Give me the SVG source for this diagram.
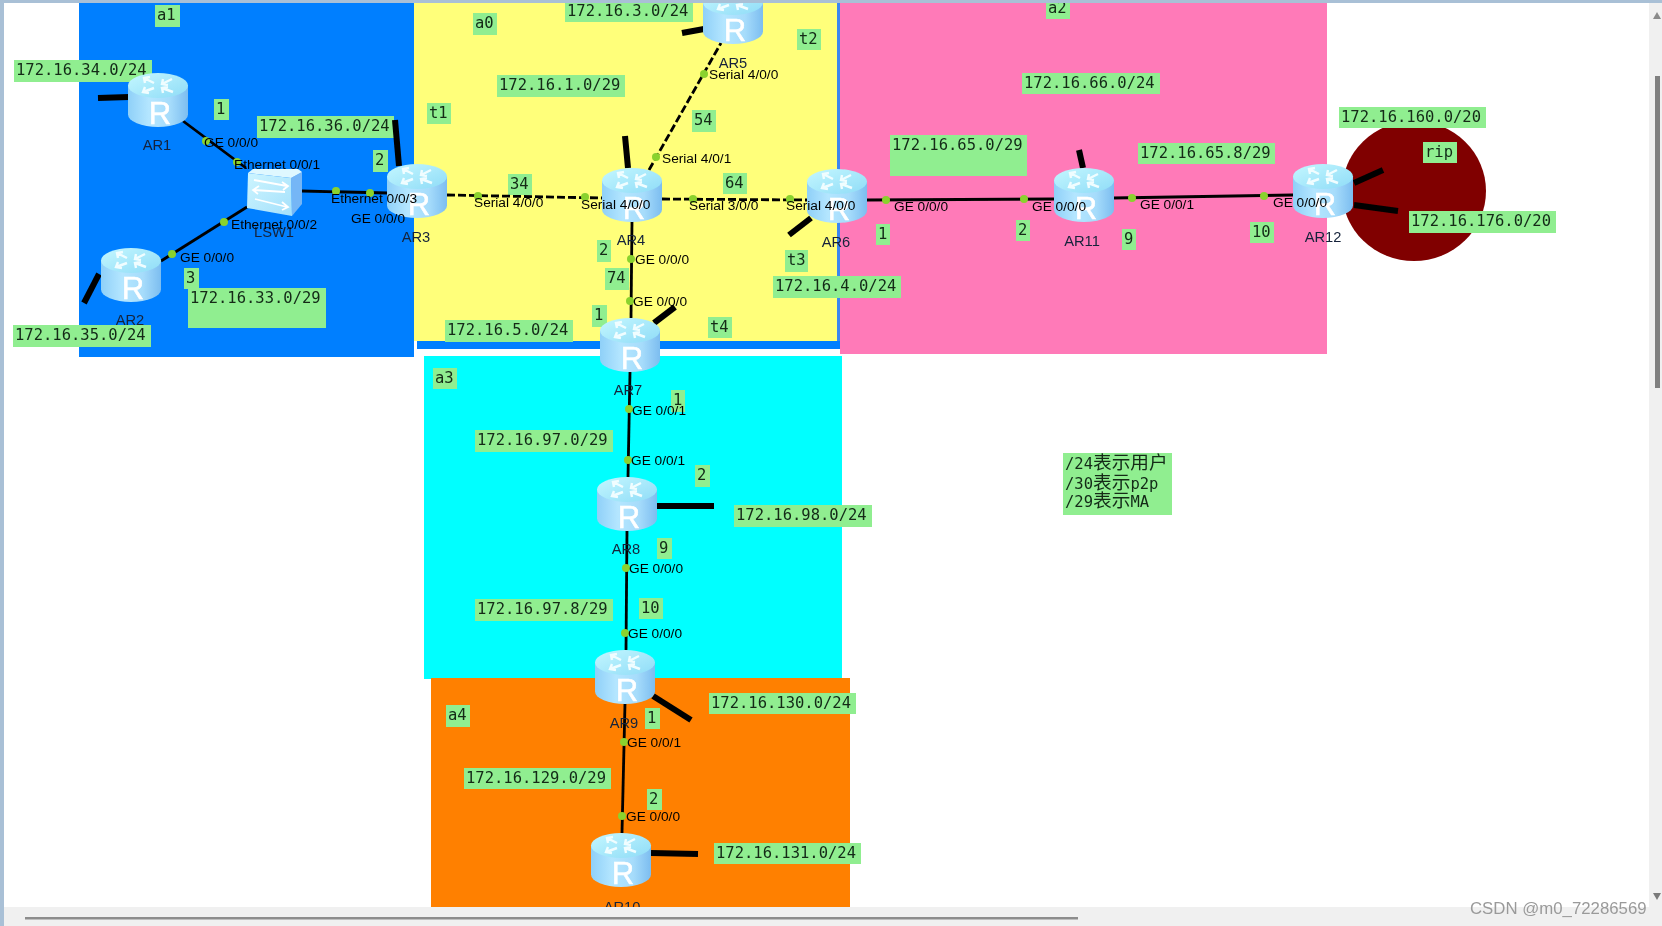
<svg xmlns="http://www.w3.org/2000/svg" width="1662" height="926" viewBox="0 0 1662 926">
<style>
.l{fill:#90ee90}
.t{font:15.5px "DejaVu Sans Mono","Liberation Mono",monospace;fill:#122a18;transform:translate(-1px,1px)}
.c{font-family:"Noto Sans CJK SC",sans-serif;font-size:18.7px}
.n{font:14.7px "Liberation Sans",Arial,sans-serif;fill:#14233a;text-anchor:middle}
.i{font:13.7px "Liberation Sans",Arial,sans-serif;fill:#000}
.k{stroke:#000;stroke-width:2.800;fill:none}
.d{stroke-dasharray:8 3}
.s{stroke:#000;stroke-width:6;fill:none}
.p{fill:#8ad22e}
</style>
<defs>
<filter id="soft" x="0" y="0" width="100%" height="100%"><feGaussianBlur stdDeviation=".4"/></filter>
<linearGradient id="body" x1="0" x2="1" y1="0" y2="0"><stop offset="0" stop-color="#8fd0f8"/><stop offset=".35" stop-color="#b4e6ff"/><stop offset=".7" stop-color="#a6dcfb"/><stop offset="1" stop-color="#7cbdf0"/></linearGradient>
<linearGradient id="top" x1="0" x2="1" y1="0" y2="1"><stop offset="0" stop-color="#c4f7ff"/><stop offset="1" stop-color="#8fdcf7"/></linearGradient>
<linearGradient id="sw" x1="0" x2="1" y1="0" y2="1"><stop offset="0" stop-color="#cdf5ff"/><stop offset="1" stop-color="#a4e0fb"/></linearGradient>
<g id="router">
<path d="M-30-14.500V14.500A30 12.500 0 0 0 30 14.500V-14.500Z" fill="url(#body)"/>
<ellipse cx="0" cy="-14.500" rx="30" ry="12.500" fill="url(#top)"/>
<path d="M-4-17L-14-22M-8-23L-14-22L-13-17M14-21L4-16M10-15L4-16L5-21M-4-12L-15-8M-9-7L-15-8L-13-13M15-8L4-12M5-7L4-12L10-13" stroke="#f0fdff" stroke-width="2.400" fill="none"/>
<text x="2" y="24" font-family="'Liberation Sans',Arial,sans-serif" font-size="31" fill="#fff" text-anchor="middle" stroke="#fff" stroke-width=".5">R</text>
</g>
</defs>
<rect width="1662" height="926" fill="#fff"/>
<g filter="url(#soft)">
<g id="areas">
<rect x="79" y="3" width="335" height="354" fill="#007fff"/>
<rect x="414" y="3" width="423" height="338" fill="#ffff7a"/>
<rect x="837" y="3" width="3" height="340" fill="#3a86f0"/>
<rect x="417" y="341" width="423" height="8" fill="#007fff"/>
<rect x="840" y="3" width="487" height="351" fill="#ff7ab8"/>
<rect x="424" y="356" width="418" height="323" fill="#0ff"/>
<rect x="431" y="678" width="419" height="230" fill="#ff8000"/>
<ellipse cx="1414" cy="191" rx="72" ry="70" fill="#800000"/>
</g>
<g id="labels">
<rect class="l" x="155" y="5" width="25" height="22"/><text class="t" x="158" y="19">a1</text>
<rect class="l" x="473" y="13" width="24" height="22"/><text class="t" x="476" y="27">a0</text>
<rect class="l" x="1046" y="0" width="24" height="19"/><text class="t" x="1049" y="12">a2</text>
<rect class="l" x="433" y="368" width="24" height="21"/><text class="t" x="436" y="382">a3</text>
<rect class="l" x="446" y="705" width="24" height="22"/><text class="t" x="449" y="719">a4</text>
<rect class="l" x="14" y="60" width="138" height="22"/><text class="t" x="17" y="74">172.16.34.0/24</text>
<rect class="l" x="257" y="116" width="137" height="22"/><text class="t" x="260" y="130">172.16.36.0/24</text>
<rect class="l" x="214" y="99" width="15" height="21"/><text class="t" x="217" y="113">1</text>
<rect class="l" x="373" y="150" width="15" height="22"/><text class="t" x="376" y="164">2</text>
<rect class="l" x="427" y="103" width="24" height="21"/><text class="t" x="430" y="117">t1</text>
<rect class="l" x="508" y="174" width="24" height="21"/><text class="t" x="511" y="188">34</text>
<rect class="l" x="184" y="268" width="15" height="21"/><text class="t" x="187" y="282">3</text>
<rect class="l" x="188" y="288" width="138" height="40"/><text class="t" x="191" y="302">172.16.33.0/29</text>
<rect class="l" x="13" y="325" width="138" height="22"/><text class="t" x="16" y="339">172.16.35.0/24</text>
<rect class="l" x="497" y="75" width="128" height="22"/><text class="t" x="500" y="89">172.16.1.0/29</text>
<rect class="l" x="565" y="0" width="128" height="22"/><text class="t" x="568" y="15">172.16.3.0/24</text>
<rect class="l" x="797" y="29" width="24" height="21"/><text class="t" x="800" y="43">t2</text>
<rect class="l" x="692" y="110" width="24" height="22"/><text class="t" x="695" y="124">54</text>
<rect class="l" x="723" y="173" width="24" height="21"/><text class="t" x="726" y="187">64</text>
<rect class="l" x="597" y="240" width="14" height="22"/><text class="t" x="600" y="254">2</text>
<rect class="l" x="605" y="268" width="24" height="22"/><text class="t" x="608" y="282">74</text>
<rect class="l" x="592" y="305" width="15" height="22"/><text class="t" x="595" y="319">1</text>
<rect class="l" x="445" y="320" width="128" height="22"/><text class="t" x="448" y="334">172.16.5.0/24</text>
<rect class="l" x="708" y="317" width="24" height="21"/><text class="t" x="711" y="331">t4</text>
<rect class="l" x="785" y="250" width="23" height="22"/><text class="t" x="788" y="264">t3</text>
<rect class="l" x="773" y="276" width="128" height="22"/><text class="t" x="776" y="290">172.16.4.0/24</text>
<rect class="l" x="876" y="224" width="14" height="21"/><text class="t" x="879" y="238">1</text>
<rect class="l" x="890" y="135" width="137" height="41"/><text class="t" x="893" y="149">172.16.65.0/29</text>
<rect class="l" x="1022" y="73" width="138" height="21"/><text class="t" x="1025" y="87">172.16.66.0/24</text>
<rect class="l" x="1138" y="143" width="137" height="21"/><text class="t" x="1141" y="157">172.16.65.8/29</text>
<rect class="l" x="1339" y="107" width="147" height="21"/><text class="t" x="1342" y="121">172.16.160.0/20</text>
<rect class="l" x="1423" y="142" width="34" height="21"/><text class="t" x="1426" y="156">rip</text>
<rect class="l" x="1409" y="211" width="147" height="22"/><text class="t" x="1412" y="225">172.16.176.0/20</text>
<rect class="l" x="1016" y="220" width="14" height="21"/><text class="t" x="1019" y="234">2</text>
<rect class="l" x="1122" y="229" width="14" height="21"/><text class="t" x="1125" y="243">9</text>
<rect class="l" x="1250" y="222" width="24" height="21"/><text class="t" x="1253" y="236">10</text>
<rect class="l" x="671" y="390" width="14" height="22"/><text class="t" x="674" y="404">1</text>
<rect class="l" x="475" y="430" width="138" height="22"/><text class="t" x="478" y="444">172.16.97.0/29</text>
<rect class="l" x="695" y="465" width="15" height="22"/><text class="t" x="698" y="479">2</text>
<rect class="l" x="734" y="505" width="138" height="22"/><text class="t" x="737" y="519">172.16.98.0/24</text>
<rect class="l" x="657" y="538" width="15" height="21"/><text class="t" x="660" y="552">9</text>
<rect class="l" x="639" y="598" width="24" height="21"/><text class="t" x="642" y="612">10</text>
<rect class="l" x="475" y="599" width="138" height="22"/><text class="t" x="478" y="613">172.16.97.8/29</text>
<rect class="l" x="709" y="693" width="147" height="21"/><text class="t" x="712" y="707">172.16.130.0/24</text>
<rect class="l" x="645" y="708" width="15" height="21"/><text class="t" x="648" y="722">1</text>
<rect class="l" x="464" y="768" width="147" height="21"/><text class="t" x="467" y="782">172.16.129.0/29</text>
<rect class="l" x="647" y="789" width="15" height="21"/><text class="t" x="650" y="803">2</text>
<rect class="l" x="714" y="843" width="147" height="21"/><text class="t" x="717" y="857">172.16.131.0/24</text>
<rect class="l" x="1063" y="453" width="109" height="62"/>
<text class="t" x="1066" y="468">/24<tspan class="c">表示用户</tspan></text>
<text class="t" x="1066" y="488">/30<tspan class="c">表示</tspan>p2p</text>
<text class="t" x="1066" y="506">/29<tspan class="c">表示</tspan>MA</text>
</g>
<g id="connectors">
<path class="k" d="M183 121L246 168"/>
<path class="k" d="M161 261L247 207"/>
<path class="k" d="M302 191L388 193"/>
<path class="k d" d="M447 195L602 198"/>
<path class="k d" d="M662 199L807 200"/>
<path class="k d" d="M649 170L721 43"/>
<path class="k" d="M632 221L631 318"/>
<path class="k" d="M867 200L1054 199"/>
<path class="k" d="M1113 198L1293 195"/>
<path class="k" d="M630 372L628 477"/>
<path class="k" d="M627 530L626 650"/>
<path class="k" d="M625 703L622 833"/>
<path class="s" d="M98 98L129 97"/>
<path class="s" d="M84 303L99 274"/>
<path class="s" d="M395 120L399 166"/>
<path class="s" d="M625 136L628 168"/>
<path class="s" d="M682 33L704 29"/>
<path class="s" d="M811 218L789 235"/>
<path class="s" d="M675 307L654 323"/>
<path class="s" d="M657 506H714"/>
<path class="s" d="M653 696L691 720"/>
<path class="s" d="M651 853L698 854"/>
<path class="s" d="M1079 150L1083 168"/>
<path class="s" d="M1354 183L1383 170"/>
<path class="s" d="M1354 205L1398 211"/>
</g>
<g id="AR1"><use href="#router" x="158" y="100"/><text class="n" x="157" y="150">AR1</text></g>
<g id="AR2"><use href="#router" x="131" y="275"/><text class="n" x="130" y="325">AR2</text></g>
<g id="AR3"><use href="#router" x="417" y="191"/><text class="n" x="416" y="242">AR3</text></g>
<g id="AR4"><use href="#router" x="632" y="195"/><text class="n" x="631" y="245">AR4</text></g>
<g id="AR5"><use href="#router" x="733" y="17"/><text class="n" x="733" y="68">AR5</text></g>
<g id="AR6"><use href="#router" x="837" y="196"/><text class="n" x="836" y="247">AR6</text></g>
<g id="AR7"><use href="#router" x="630" y="345"/><text class="n" x="628" y="395">AR7</text></g>
<g id="AR8"><use href="#router" x="627" y="504"/><text class="n" x="626" y="554">AR8</text></g>
<g id="AR9"><use href="#router" x="625" y="677"/><text class="n" x="624" y="728">AR9</text></g>
<g id="AR10"><use href="#router" x="621" y="860"/><text class="n" x="622" y="912">AR10</text></g>
<g id="AR11"><use href="#router" x="1084" y="195"/><text class="n" x="1082" y="246">AR11</text></g>
<g id="AR12"><use href="#router" x="1323" y="191"/><text class="n" x="1323" y="242">AR12</text></g>
<g id="LSW1">
<path d="M291 178L302 172V204L292 216Z" fill="#74b6f6"/>
<path d="M248 173L253 169H298L302 172L291 178Z" fill="#dff8ff"/>
<path d="M248 173L291 178L292 216L247 208Z" fill="url(#sw)"/>
<path d="M254 180L287 186M282 182L288 186L283 190M285 192L254 190M259 186L253 190L258 194M255 199L287 207M282 202L288 207L282 210" stroke="#fff" stroke-width="1.800" fill="none"/>
<text class="n" x="274" y="237">LSW1</text>
</g>
<g id="points">
<circle class="p" cx="206" cy="141" r="4"/><circle class="p" cx="237" cy="162" r="4"/><circle class="p" cx="224" cy="222" r="4"/><circle class="p" cx="172" cy="254" r="4"/><circle class="p" cx="336" cy="191" r="4"/><circle class="p" cx="370" cy="193" r="4"/><circle class="p" cx="478" cy="196" r="4"/><circle class="p" cx="585" cy="197" r="4"/><circle class="p" cx="656" cy="157" r="4"/><circle class="p" cx="704" cy="74" r="4"/><circle class="p" cx="693" cy="199" r="4"/><circle class="p" cx="790" cy="199" r="4"/><circle class="p" cx="886" cy="200" r="4"/><circle class="p" cx="631" cy="259" r="4"/><circle class="p" cx="630" cy="301" r="4"/><circle class="p" cx="1024" cy="199" r="4"/><circle class="p" cx="1132" cy="198" r="4"/><circle class="p" cx="1264" cy="196" r="4"/><circle class="p" cx="629" cy="409" r="4"/><circle class="p" cx="628" cy="460" r="4"/><circle class="p" cx="626" cy="568" r="4"/><circle class="p" cx="625" cy="633" r="4"/><circle class="p" cx="624" cy="742" r="4"/><circle class="p" cx="622" cy="816" r="4"/>
</g>
<g id="interfaces">
<text class="i" x="204" y="147">GE 0/0/0</text>
<text class="i" x="234" y="169">Ethernet 0/0/1</text>
<text class="i" x="231" y="229">Ethernet 0/0/2</text>
<text class="i" x="180" y="262">GE 0/0/0</text>
<text class="i" x="331" y="203">Ethernet 0/0/3</text>
<text class="i" x="351" y="223">GE 0/0/0</text>
<text class="i" x="474" y="207">Serial 4/0/0</text>
<text class="i" x="581" y="209">Serial 4/0/0</text>
<text class="i" x="689" y="210">Serial 3/0/0</text>
<text class="i" x="786" y="210">Serial 4/0/0</text>
<text class="i" x="894" y="211">GE 0/0/0</text>
<text class="i" x="662" y="163">Serial 4/0/1</text>
<text class="i" x="709" y="79">Serial 4/0/0</text>
<text class="i" x="635" y="264">GE 0/0/0</text>
<text class="i" x="633" y="306">GE 0/0/0</text>
<text class="i" x="1032" y="211">GE 0/0/0</text>
<text class="i" x="1140" y="209">GE 0/0/1</text>
<text class="i" x="1273" y="207">GE 0/0/0</text>
<text class="i" x="632" y="415">GE 0/0/1</text>
<text class="i" x="631" y="465">GE 0/0/1</text>
<text class="i" x="629" y="573">GE 0/0/0</text>
<text class="i" x="628" y="638">GE 0/0/0</text>
<text class="i" x="627" y="747">GE 0/0/1</text>
<text class="i" x="626" y="821">GE 0/0/0</text>
</g>
<g id="chrome">
<rect width="1662" height="3" fill="#a9c0d6"/>
<rect y="3" width="4" height="923" fill="#a9c0d6"/>
<rect x="4" y="907" width="1658" height="19" fill="#f0f0f0"/>
<rect x="25" y="917" width="1053" height="2.500" fill="#8c8c8c"/>
<rect x="1649" y="3" width="13" height="904" fill="#f0f0f0"/>
<rect x="1655" y="76" width="5" height="312" fill="#808080"/>
<path d="M1653 19L1657 12L1661 19Z" fill="#8a8a8a"/>
<path d="M1653 893L1657 900L1661 893Z" fill="#7a7a7a"/>
<text x="1470" y="914" font-family="'Liberation Sans',Arial,sans-serif" font-size="16.800" fill="#9a9a9a">CSDN @m0_72286569</text>
</g>
</g>
</svg>
